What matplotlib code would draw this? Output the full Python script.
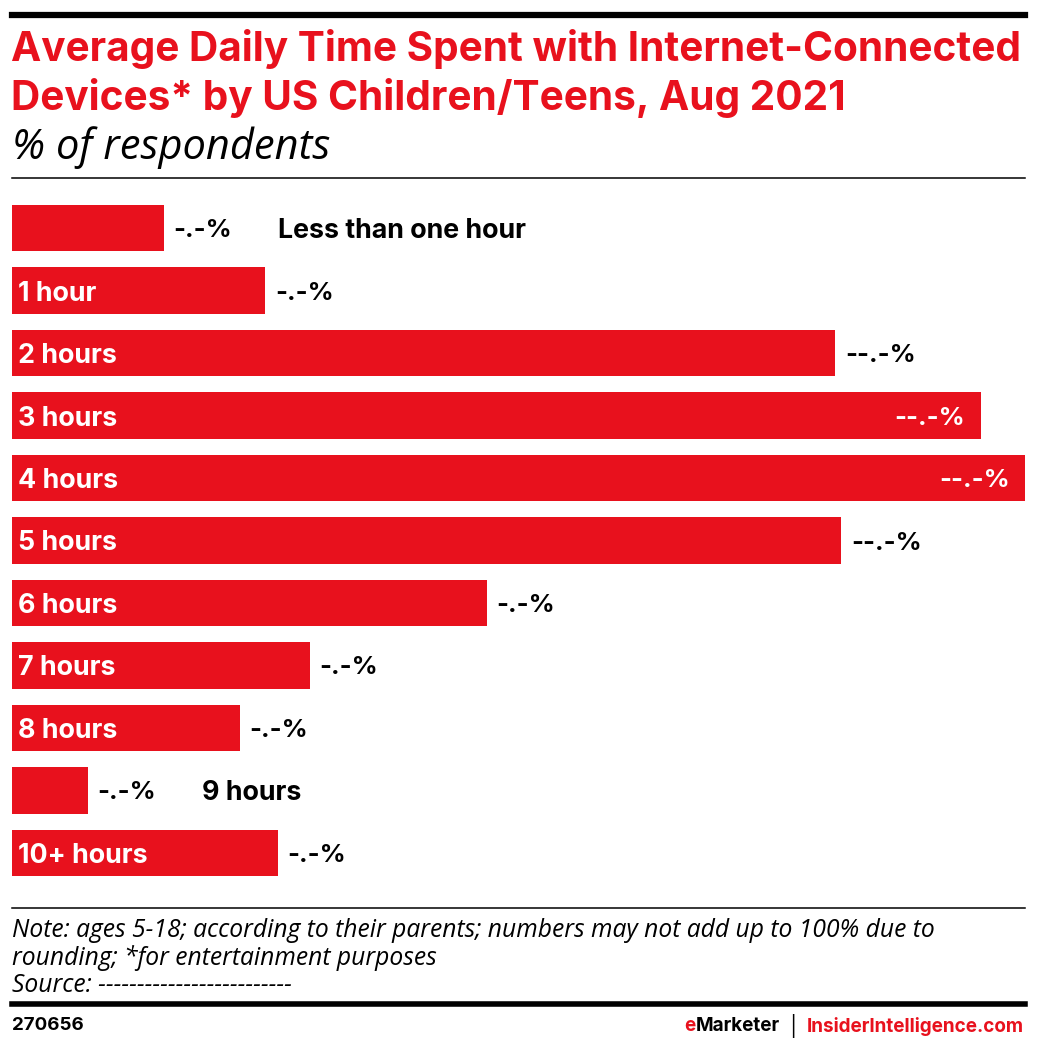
import matplotlib
matplotlib.use('Agg')
import matplotlib.pyplot as plt

# ---- data (values hidden in the source, lengths) ----
categories = ["Less than one hour", "1 hour", "2 hours", "3 hours", "4 hours",
              "5 hours", "6 hours", "7 hours", "8 hours", "9 hours", "10+ hours"]
values = [2.4, 4.0, 13.0, 15.3, 16.0, 13.1, 7.5, 4.7, 3.6, 1.2, 4.2]
value_labels = ["-.-%", "-.-%", "--.-%", "--.-%", "--.-%", "--.-%",
                "-.-%", "-.-%", "-.-%", "-.-%", "-.-%"]

title = "Average Daily Time Spent with Internet-Connected\nDevices* by US Children/Teens, Aug 2021"
subtitle = "% of respondents"
note = ("Note: ages 5-18; according to their parents; numbers may not add up to 100% due to\n"
        "rounding; *for entertainment purposes\n"
        "Source: -------------------------")
chart_id = "270656"

RED = '#E8111D'
W, H = 1038, 1051
FONT = 'Inter'
IFONT = 'Open Sans'

fig = plt.figure(figsize=(W / 100, H / 100), dpi=100)

def fx(px):
    return px / W

def fy(py):
    return 1 - py / H

# rules
def rule(y, lw):
    fig.add_artist(plt.Line2D([fx(12), fx(1025)], [fy(y), fy(y)], color='black', lw=lw,
                              transform=fig.transFigure))

rule(15, 4.5)
rule(178, 1.1)
rule(908, 1.1)
rule(1004, 4)

fig.text(fx(11), fy(29), title, color=RED, fontsize=29.2, fontweight='bold', family=FONT,
         va='top', ha='left', linespacing=1.28)
fig.text(fx(12), fy(148), subtitle, fontsize=30, style='italic', family=IFONT,
         va='center', ha='left')

# bars
ax = fig.add_axes([fx(12), fy(876), fx(1025) - fx(12), (876 - 205) / H])
ypos = list(range(len(categories)))
ax.barh(ypos, values, height=0.74, color=RED)
ax.set_xlim(0, max(values))
ax.set_ylim(len(categories) - 1 + 0.37, -0.37)
ax.axis('off')

fig.canvas.draw()
r = fig.canvas.get_renderer()

vmax = max(values)
VAL = 18.5
CAT = 19.3
for i, (cat, v, lab) in enumerate(zip(categories, values, value_labels)):
    if v > 0.9 * vmax:
        ax.annotate(lab, (v, i), xytext=(-11, 0), textcoords='offset points', color='white',
                    ha='right', va='center_baseline', fontsize=VAL, fontweight='bold',
                    family=FONT)
    else:
        t = ax.annotate(lab, (v, i), xytext=(7, 0), textcoords='offset points', color='black',
                        ha='left', va='center_baseline', fontsize=VAL, fontweight='bold',
                        family=FONT)
    if v >= 3:
        ax.annotate(cat, (0, i), xytext=(4, 0), textcoords='offset points', color='white',
                    ha='left', va='center_baseline', fontsize=CAT, fontweight='bold',
                    family=FONT)
    else:
        # category name follows the value label outside the bar
        wpt = t.get_window_extent(renderer=r).width * 72 / 100
        ax.annotate(cat, (v, i), xytext=(7 + wpt + 33, 0), textcoords='offset points',
                    color='black', ha='left', va='center_baseline', fontsize=CAT,
                    fontweight='bold', family=FONT)

fig.text(fx(12), fy(918), note, fontsize=17.7, style='italic', family=IFONT,
         va='top', ha='left', linespacing=1.1)

fig.text(fx(12), fy(1026), chart_id, fontsize=13.5, fontweight='bold', family=FONT,
         va='center', ha='left')

# footer brand, laid out right to left
x = fx(1024)
parts = [("InsiderIntelligence.com", RED, 'bold'), ("  |  ", 'black', 'normal'),
         ("Marketer", 'black', 'bold'), ("e", RED, 'bold')]
for txt, col, wt in parts:
    t = fig.text(x, fy(1026), txt, fontsize=13.6, fontweight=wt, family=FONT, color=col,
                 va='center', ha='right')
    bb = t.get_window_extent(renderer=r)
    x -= bb.width / W

fig.savefig('out.png', dpi=100)
